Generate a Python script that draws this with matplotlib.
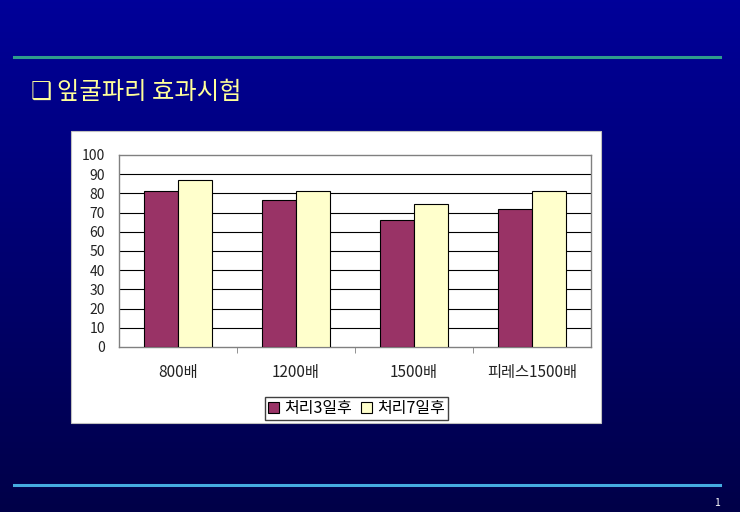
import matplotlib

matplotlib.use("Agg")
import matplotlib.pyplot as plt
import numpy as np
from matplotlib.patches import Rectangle
from matplotlib.lines import Line2D

plt.rcParams["font.family"] = ["Noto Sans CJK KR", "DejaVu Sans"]

# data
categories = ["800배", "1200배", "1500배", "피레스1500배"]
series_names = ["처리3일후", "처리7일후"]
day3 = [81, 76.5, 66, 72]
day7 = [87, 81, 74.5, 81.5]
y_ticks = list(range(0, 101, 10))

W, H = 740, 512
fig = plt.figure(figsize=(W / 100, H / 100), dpi=100)

# slide background: blue gradient
bg = fig.add_axes([0, 0, 1, 1], zorder=-10)
grad = np.linspace(0, 1, 256).reshape(-1, 1)
top = np.array([0, 0, 153]) / 255
bot = np.array([0, 0, 72]) / 255
img = top[None, None, :] * (1 - grad[..., None]) + bot[None, None, :] * grad[..., None]
bg.imshow(img, aspect="auto", extent=[0, W, H, 0])
bg.set_xlim(0, W)
bg.set_ylim(H, 0)
bg.axis("off")

# decorative lines
bg.add_line(Line2D([14, 720], [57, 57], color="#2f9c8c", lw=2.2))
bg.add_line(Line2D([14, 720], [485, 485], color="#45ace0", lw=2.2))

# title
bg.text(31, 93, "❑", color="#ffff99", fontsize=17, va="center", ha="left",
        fontweight="bold", family=["DejaVu Sans"])
bg.text(57, 92, "잎굴파리 효과시험", color="#ffff99", fontsize=17.5,
        va="center", ha="left", fontweight="medium")
bg.text(717, 503, "1", color="white", fontsize=7.5, va="center", ha="center")

# white chart box
bg.add_patch(Rectangle((71, 131), 530, 292, facecolor="white",
                       edgecolor="#c0c0c0", lw=0.8))

# plot area
ax = fig.add_axes([119 / W, 1 - 347 / H, 472 / W, 192 / H])
ax.set_facecolor("white")
x = np.arange(len(categories))
bw = 0.29
ax.bar(x - bw / 2, day3, bw, color="#993366", edgecolor="black", lw=0.8,
       label=series_names[0], zorder=3)
ax.bar(x + bw / 2, day7, bw, color="#ffffcc", edgecolor="black", lw=0.8,
       label=series_names[1], zorder=3)

ax.set_xlim(-0.5, len(categories) - 0.5)
ax.set_ylim(0, 100)
ax.set_yticks(y_ticks)
for v in y_ticks[1:-1]:
    ax.axhline(v, color="black", lw=0.8, zorder=1)
for s in ax.spines.values():
    s.set_color("#808080")
    s.set_linewidth(1)

ax.set_xticks(x)
ax.set_xticklabels(categories, fontsize=11, color="#222222")
ax.set_xticks(np.arange(0.5, len(categories) - 0.5, 1), minor=True)
ax.tick_params(axis="x", which="major", length=0, pad=12)
ax.tick_params(axis="x", which="minor", length=4, color="#808080")
ax.tick_params(axis="y", length=0, pad=10, labelsize=10, labelcolor="#222222")

fig.legend(loc="center", bbox_to_anchor=(356.5 / W, 1 - 408.5 / H), ncol=2,
           fontsize=11.5, frameon=True, fancybox=False, edgecolor="#404040",
           framealpha=1, handlelength=0.7, handleheight=0.7,
           handletextpad=0.3, columnspacing=0.6, borderpad=0.2)

fig.savefig("out.png", dpi=100)
